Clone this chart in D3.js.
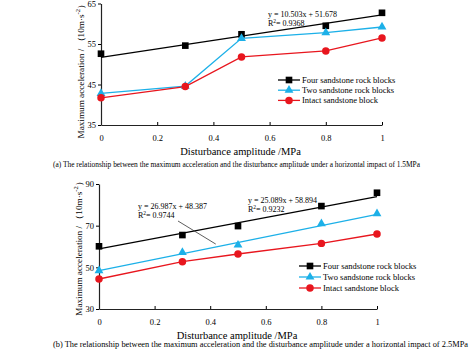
<!DOCTYPE html>
<html>
<head>
<meta charset="utf-8">
<script src="https://cdn.jsdelivr.net/npm/d3@7"></script>
<style>
  body { margin: 0; background: #fff; }
  svg { display: block; font-family: "Liberation Serif", "DejaVu Serif", serif; }
</style>
</head>
<body>
<svg id="chart" width="474" height="354"></svg>
<script>
// values
const xValues = [0, 0.3, 0.5, 0.8, 1];
const xTicks = [0, 0.2, 0.4, 0.6, 0.8, 1];

const fourA = [52.6, 54.6, 57.4, 59.5, 62.7];
const twoA = [42.8, 44.6, 56.4, 57.8, 59.2];
const intactA = [41.7, 44.5, 51.8, 53.3, 56.5];
const yTicksA = [35, 45, 55, 65];

const fourB = [60.1, 65.5, 69.8, 79.4, 85.8];
const twoB = [48.4, 57.2, 60.7, 71.0, 75.8];
const intactB = [44.4, 52.7, 56.4, 61.5, 66.0];
const yTicksB = [30, 50, 70, 90];

const fitA4 = [10.503, 51.678, "0.9368"];
const fitB4 = [25.089, 58.894, "0.9232"];
const fitB2 = [26.987, 48.387, "0.9744"];

const seriesNames = ["Four sandstone rock blocks", "Two sandstone rock blocks", "Intact sandstone block"];
const colors = ["#000000", "#1cb0e8", "#e8161e"];
const shapes = [d3.symbolSquare, d3.symbolTriangle, d3.symbolCircle];

const svg = d3.select("#chart");

function panel(p) {
  const x = d3.scaleLinear().domain([0, 1]).range([p.left, p.right]);
  const y = d3.scaleLinear().domain(p.yDomain).range([p.bottom, p.top]);
  const g = svg.append("g");

  // axes
  g.append("g")
    .attr("transform", "translate(0," + p.bottom + ")")
    .call(d3.axisBottom(x).tickValues(xTicks).tickSizeInner(-3).tickSizeOuter(0)
      .tickPadding(10).tickFormat(d3.format("")))
    .call(a => a.selectAll("text").attr("font-size", 8.5).attr("font-family", "Liberation Serif"));
  g.append("g")
    .attr("transform", "translate(" + p.left + ",0)")
    .call(d3.axisLeft(y).tickValues(p.yTicks).tickSizeInner(3).tickSizeOuter(0).tickPadding(2))
    .call(a => a.selectAll("text").attr("font-size", 8.5).attr("font-family", "Liberation Serif"));
  g.selectAll(".domain").attr("stroke", "#222").attr("stroke-width", 1.2);

  g.append("text")
    .attr("x", (p.left + p.right) / 2 - 1).attr("y", p.bottom + 30)
    .attr("text-anchor", "middle").attr("font-size", 10.5)
    .text("Disturbance amplitude /MPa");

  const ty = g.append("text")
    .attr("transform", "translate(" + (p.left - 17) + "," + ((p.top + p.bottom) / 2 + p.titleShift) + ") rotate(-90)")
    .attr("text-anchor", "middle").attr("font-size", 9.2);
  ty.append("tspan").text("Maximum acceleration / （10m·s");
  ty.append("tspan").attr("font-size", 6.5).attr("dy", -4).text("-2");
  ty.append("tspan").attr("dy", 4).text("）");

  g.append("text")
    .attr("x", p.capX).attr("y", p.capY).attr("font-size", 7.5)
    .attr("textLength", p.capW).attr("lengthAdjust", "spacingAndGlyphs")
    .text(p.caption);

  // lines: trend lines (straight) or polylines through markers
  p.series.forEach((vals, i) => {
    const fit = p.fits[i];
    let pts;
    if (fit) pts = [[0, fit[1]], [1, fit[0] + fit[1]]];
    else pts = xValues.map((v, j) => [v, vals[j]]);
    g.append("path")
      .attr("d", d3.line().x(d => x(d[0])).y(d => y(d[1]))(pts))
      .attr("fill", "none").attr("stroke", colors[i]).attr("stroke-width", 1.3);
  });
  p.series.forEach((vals, i) => {
    g.selectAll(null).data(vals).join("path")
      .attr("transform", (d, j) => "translate(" + x(xValues[j]) + "," + y(d) + ")")
      .attr("d", d3.symbol().type(shapes[i]).size(i === 1 ? 34 : 44))
      .attr("fill", colors[i]);
  });

  // fit annotations
  p.notes.forEach(n => {
    const fit = p.fits[n.s];
    const t = g.append("text").attr("x", n.x).attr("y", n.y).attr("font-size", 8);
    t.text("y = " + fit[0].toFixed(3) + "x + " + fit[1].toFixed(3));
    const r = g.append("text").attr("x", n.x).attr("y", n.y + 9).attr("font-size", 8);
    r.append("tspan").text("R");
    r.append("tspan").attr("font-size", 5.5).attr("dy", -3).text("2");
    r.append("tspan").attr("dy", 3).text("= " + fit[2]);
    if (n.arrow) {
      const ex = x(n.arrow), ey = y(fit[0] * n.arrow + fit[1]) - 3;
      g.append("line").attr("x1", n.x + 40).attr("y1", n.y + 12)
        .attr("x2", ex).attr("y2", ey).attr("stroke", "#333").attr("stroke-width", 0.8);
    }
  });

  // legend
  seriesNames.forEach((name, i) => {
    const ly = p.legY + i * p.legStep;
    g.append("line").attr("x1", p.legX).attr("x2", p.legX + 22)
      .attr("y1", ly).attr("y2", ly).attr("stroke", colors[i]).attr("stroke-width", 1.3);
    g.append("path").attr("transform", "translate(" + (p.legX + 11) + "," + ly + ")")
      .attr("d", d3.symbol().type(shapes[i]).size(i === 1 ? 34 : 44)).attr("fill", colors[i]);
    g.append("text").attr("x", p.legX + 24).attr("y", ly + 3).attr("font-size", 8.5).text(name);
  });
}

panel({
  left: 101, right: 382, top: 3.5, bottom: 125,
  yDomain: [35, 65], yTicks: yTicksA, titleShift: 5,
  series: [fourA, twoA, intactA], fits: [fitA4, null, null],
  notes: [{ s: 0, x: 268, y: 17 }],
  legX: 278, legY: 80, legStep: 10.2,
  caption: "(a) The relationship between the maximum acceleration and the disturbance amplitude under a horizontal impact of 1.5MPa",
  capX: 53, capY: 167, capW: 367
});

panel({
  left: 99, right: 377, top: 184, bottom: 309,
  yDomain: [30, 90], yTicks: yTicksB, titleShift: 0,
  series: [fourB, twoB, intactB], fits: [fitB4, fitB2, null],
  notes: [{ s: 1, x: 138, y: 209, arrow: 0.42 }, { s: 0, x: 248, y: 203 }],
  legX: 299, legY: 266, legStep: 11,
  caption: "(b) The relationship between the maximum acceleration and the disturbance amplitude under a horizontal impact of 2.5MPa",
  capX: 53, capY: 347, capW: 415
});
</script>
</body>
</html>
